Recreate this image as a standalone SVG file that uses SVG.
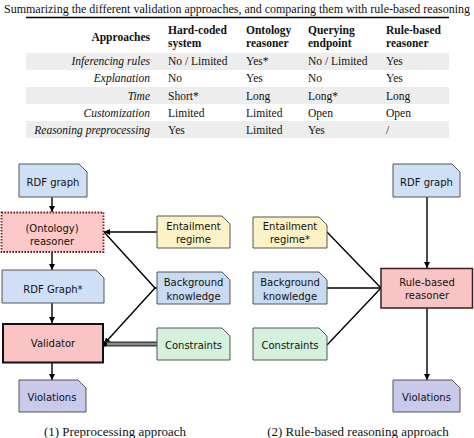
<svg xmlns="http://www.w3.org/2000/svg" width="474" height="438" viewBox="0 0 474 438">
<style>
.t{font-family:"Liberation Serif","Times New Roman",serif;font-size:11.5px;fill:#111}
.b{font-weight:bold}
.i{font-style:italic}
.cap{font-family:"Liberation Serif","Times New Roman",serif;font-size:13px;fill:#111}
.n{font-family:"DejaVu Sans",Verdana,sans-serif;font-size:10px;fill:#111;text-anchor:middle}
.node{stroke:#555;stroke-width:1}
.conn{stroke:#000;stroke-width:1.4;fill:none}
</style>
<defs>
<marker id="ah" viewBox="0 0 8 8" refX="8" refY="4" markerWidth="4.5" markerHeight="4.5" orient="auto">
<path d="M0,0 L8,4 L0,8 Z" fill="#000"/>
</marker>
</defs>
<rect width="474" height="438" fill="#fff"/>
<g id="table">
<text class="t" x="237" y="13" text-anchor="middle" style="font-size:12px">Summarizing the different validation approaches, and comparing them with rule-based reasoning</text>
<line x1="26" y1="17.5" x2="449" y2="17.5" stroke="#000" stroke-width="1.5"/>
<rect x="26" y="53" width="423" height="17" fill="#ededed"/>
<rect x="26" y="87" width="423" height="17" fill="#ededed"/>
<rect x="26" y="121" width="423" height="17" fill="#ededed"/>
<text class="t b" x="150" y="41" text-anchor="end">Approaches</text>
<text class="t b" x="168" y="34">Hard-coded</text>
<text class="t b" x="168" y="47">system</text>
<text class="t b" x="246" y="34">Ontology</text>
<text class="t b" x="246" y="47">reasoner</text>
<text class="t b" x="308" y="34">Querying</text>
<text class="t b" x="308" y="47">endpoint</text>
<text class="t b" x="386" y="34">Rule-based</text>
<text class="t b" x="386" y="47">reasoner</text>
<text class="t i" x="150" y="65" text-anchor="end">Inferencing rules</text>
<text class="t" x="168" y="65">No / Limited</text>
<text class="t" x="246" y="65">Yes*</text>
<text class="t" x="308" y="65">No / Limited</text>
<text class="t" x="386" y="65">Yes</text>
<text class="t i" x="150" y="82" text-anchor="end">Explanation</text>
<text class="t" x="168" y="82">No</text>
<text class="t" x="246" y="82">Yes</text>
<text class="t" x="308" y="82">No</text>
<text class="t" x="386" y="82">Yes</text>
<text class="t i" x="150" y="100" text-anchor="end">Time</text>
<text class="t" x="168" y="100">Short*</text>
<text class="t" x="246" y="100">Long</text>
<text class="t" x="308" y="100">Long*</text>
<text class="t" x="386" y="100">Long</text>
<text class="t i" x="150" y="117" text-anchor="end">Customization</text>
<text class="t" x="168" y="117">Limited</text>
<text class="t" x="246" y="117">Limited</text>
<text class="t" x="308" y="117">Open</text>
<text class="t" x="386" y="117">Open</text>
<text class="t i" x="150" y="134" text-anchor="end">Reasoning preprocessing</text>
<text class="t" x="168" y="134">Yes</text>
<text class="t" x="246" y="134">Limited</text>
<text class="t" x="308" y="134">Yes</text>
<text class="t" x="386" y="134">/</text>
</g>
<g id="connectors">
<line class="conn" x1="52" y1="197" x2="52" y2="212" marker-end="url(#ah)"/>
<line class="conn" x1="52" y1="252" x2="52" y2="270" marker-end="url(#ah)"/>
<line class="conn" x1="52" y1="303" x2="52" y2="323" marker-end="url(#ah)"/>
<line class="conn" x1="52" y1="363" x2="52" y2="380" marker-end="url(#ah)"/>
<line class="conn" x1="157" y1="232" x2="104" y2="232" marker-end="url(#ah)"/>
<polyline class="conn" points="157,288 155,288 104,232"/>
<line class="conn" x1="155" y1="288" x2="104" y2="344" marker-end="url(#ah)"/>
<line x1="157" y1="344" x2="104" y2="344" stroke="#333" stroke-width="5"/>
<line x1="157" y1="344" x2="104" y2="344" stroke="#8a8a8a" stroke-width="2.5"/>
<circle cx="104.5" cy="344" r="2.5" fill="#000"/>
<line class="conn" x1="427" y1="197" x2="427" y2="268" marker-end="url(#ah)"/>
<line class="conn" x1="427" y1="308" x2="427" y2="380" marker-end="url(#ah)"/>
<line class="conn" x1="327" y1="232" x2="381" y2="288"/>
<line class="conn" x1="327" y1="288" x2="381" y2="288"/>
<line class="conn" x1="327" y1="345" x2="381" y2="288"/>
</g>
<g id="rdf1">
<path class="node" d="M19,164 H79 L87,172 V197 H19 Z" fill="#cfdff5"/>
<text class="n" x="53" y="185.5">RDF graph</text>
</g>
<g id="reasoner1">
<rect x="1.5" y="212.5" width="102" height="39.5" fill="#fcc8c8" stroke="#6e1c1c" stroke-width="1.8" stroke-dasharray="1.6,1.4"/>
<text class="n" x="52" y="231.5">(Ontology)</text>
<text class="n" x="52" y="244.5">reasoner</text>
</g>
<g id="rdf2">
<path class="node" d="M2,270 H96 L104,278 V303 H2 Z" fill="#cfdff5"/>
<text class="n" x="53" y="293">RDF Graph*</text>
</g>
<g id="validator">
<rect x="3" y="324" width="100" height="38.5" fill="#fbc4c4" stroke="#111" stroke-width="2"/>
<text class="n" x="53" y="346.5">Validator</text>
</g>
<g id="violations1">
<path class="node" d="M19,380 H78 L86,388 V412 H19 Z" fill="#c9c9ec"/>
<text class="n" x="52" y="400.5">Violations</text>
</g>
<g id="entail1">
<path class="node" d="M157,216 H222 L230,224 V248 H157 Z" fill="#fdf2c6"/>
<text class="n" x="193.5" y="229.5">Entailment</text>
<text class="n" x="193.5" y="242.5">regime</text>
</g>
<g id="bg1">
<path class="node" d="M157,272 H222 L230,280 V304 H157 Z" fill="#c9dbf2"/>
<text class="n" x="193.5" y="286">Background</text>
<text class="n" x="193.5" y="299.5">knowledge</text>
</g>
<g id="constraints1">
<path class="node" d="M157,328 H222 L230,336 V360 H157 Z" fill="#d4f1dc"/>
<text class="n" x="193.5" y="348.5">Constraints</text>
</g>
<g id="rdf3">
<path class="node" d="M393,164 H452 L460,172 V197 H393 Z" fill="#cfdff5"/>
<text class="n" x="426.5" y="185.5">RDF graph</text>
</g>
<g id="rulereasoner">
<rect x="381" y="268.5" width="91.5" height="39.5" fill="#fbc4c4" stroke="#3a1f1f" stroke-width="1.5"/>
<text class="n" x="427" y="285.5">Rule-based</text>
<text class="n" x="427" y="298.5">reasoner</text>
</g>
<g id="violations2">
<path class="node" d="M393,380 H452 L460,388 V412 H393 Z" fill="#c9c9ec"/>
<text class="n" x="426.5" y="400.5">Violations</text>
</g>
<g id="entail2">
<path class="node" d="M253,217 H319 L327,225 V248 H253 Z" fill="#fdf2c6"/>
<text class="n" x="290" y="229.5">Entailment</text>
<text class="n" x="290" y="243">regime*</text>
</g>
<g id="bg2">
<path class="node" d="M253,272 H319 L327,280 V304 H253 Z" fill="#c9dbf2"/>
<text class="n" x="290" y="286">Background</text>
<text class="n" x="290" y="299.5">knowledge</text>
</g>
<g id="constraints2">
<path class="node" d="M253,328 H319 L327,336 V360 H253 Z" fill="#d4f1dc"/>
<text class="n" x="290" y="348.5">Constraints</text>
</g>
<text class="cap" x="115" y="436" text-anchor="middle">(1) Preprocessing approach</text>
<text class="cap" x="358" y="436" text-anchor="middle">(2) Rule-based reasoning approach</text>
</svg>
